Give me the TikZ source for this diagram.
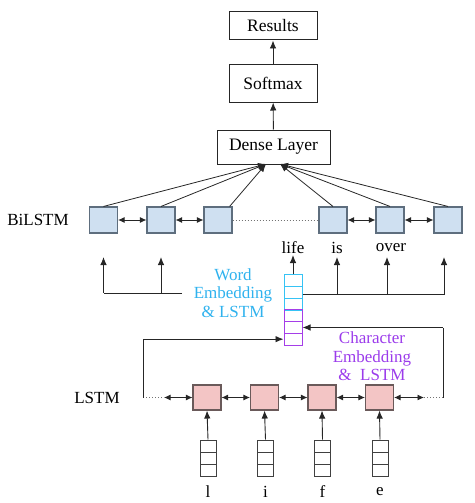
\documentclass[tikz,border=0pt]{standalone}
\usepackage{fontspec}
\setmainfont{Liberation Serif}
\usetikzlibrary{arrows.meta}
\definecolor{bfill}{HTML}{CFE0F1}
\definecolor{bdraw}{HTML}{5E6E7E}
\definecolor{pfill}{HTML}{F3C5C5}
\definecolor{pdraw}{HTML}{6A5A5A}
\definecolor{cyantext}{HTML}{2FB2EE}
\definecolor{cyanbox}{HTML}{36C3F5}
\definecolor{purpletext}{HTML}{9B3BEB}
\definecolor{purplebox}{HTML}{A53EE8}
\begin{document}
\begin{tikzpicture}[x=1pt,y=-1pt,
  >={Latex[length=8pt,width=6.5pt]},
  line width=0.9pt,
  topbox/.style={draw=black!85, line width=1pt, minimum height=28pt, font=\fontsize{17.5}{20}\selectfont, inner sep=0pt},
  bcell/.style={draw=bdraw, fill=bfill, line width=1.1pt, minimum width=28pt, minimum height=26pt, inner sep=0pt},
  pcell/.style={draw=pdraw, fill=pfill, line width=1.1pt, minimum width=28pt, minimum height=25pt, inner sep=0pt},
  wcell/.style={draw=cyanbox, line width=1pt, minimum width=18pt, minimum height=11.67pt, inner sep=0pt},
  ccell/.style={draw=purplebox, line width=1pt, minimum width=18pt, minimum height=11.67pt, inner sep=0pt},
  kcell/.style={draw=black!75, line width=1pt, minimum width=16pt, minimum height=12pt, inner sep=0pt},
  lbl/.style={font=\fontsize{17}{19}\selectfont, inner sep=0pt},
  conn/.style={draw=black!85, line width=0.9pt},
  dots/.style={draw=black!55, dotted, line width=1pt},
  dbl/.style={conn, {Latex[length=6.5pt,width=6pt]}-{Latex[length=6.5pt,width=6pt]}}
]
\useasboundingbox (0,0) rectangle (474,503);

% top stack
\node[topbox, minimum width=88pt] (res) at (273,26) {Results};
\node[topbox, minimum width=88pt, minimum height=37pt] (soft) at (273,83.5) {Softmax};
\node[topbox, minimum width=113pt, minimum height=34pt] (dense) at (273.5,147) {Dense Layer};
\draw[conn,->] (soft) -- (res);
\draw[conn,->] (dense) -- (soft);

% BiLSTM row
\node[lbl] (bilbl) at (38,220) {BiLSTM};
\node[bcell] (b1) at (103.5,220) {};
\node[bcell] (b2) at (161,220) {};
\node[bcell] (b3) at (218,220) {};
\node[bcell] (b4) at (333,220) {};
\node[bcell] (b5) at (390,220) {};
\node[bcell] (b6) at (448,220) {};
\draw[dbl] (b1) -- (b2);
\draw[dbl] (b2) -- (b3);
\draw[dots] (b3) -- (b4);
\draw[dbl] (b4) -- (b5);
\draw[dbl] (b5) -- (b6);

\coordinate (dl) at (266,164);
\coordinate (dr) at (280,164);
\draw[conn,->,line width=0.8pt] (b1.north) -- (dl);
\draw[conn,->,line width=0.8pt] (b2.north) -- (dl);
\draw[conn,->,line width=0.8pt] (b3) -- (dl);
\draw[conn,->,line width=0.8pt] (b4.north) -- (dr);
\draw[conn,->,line width=0.8pt] (b5.north) -- (dr);
\draw[conn,->,line width=0.8pt] (b6.north) -- (dr);

% words
\node[lbl] (life) at (293,248) {life};
\node[lbl] (is) at (337,248) {is};
\node[lbl] (over) at (391,248) {over};

% word/char stack
\node[wcell] (w1) at (293,280.83) {};
\node[wcell] (w2) at (293,292.5) {};
\node[wcell] (w3) at (293,304.17) {};
\node[ccell] (c1) at (293,315.83) {};
\node[ccell] (c2) at (293,327.5) {};
\node[ccell] (c3) at (293,339.17) {};

\coordinate (lifetip) at (293,255);
\draw[conn,->] (w1.north) -- (lifetip);

% right branch
\coordinate (rj1) at (337,294.5);
\coordinate (rj2) at (387,294.5);
\coordinate (rj3) at (444,294.5);
\coordinate (ra1) at (337,257);
\coordinate (ra2) at (387,257);
\coordinate (ra3) at (444,257);
\draw[conn] (w2.east |- rj1) -- (rj3);
\draw[conn,->] (rj1) -- (ra1);
\draw[conn,->] (rj2) -- (ra2);
\draw[conn,->] (rj3) -- (ra3);

% left branch
\coordinate (lj0) at (182,293);
\coordinate (lj1) at (161,293);
\coordinate (lj2) at (103.5,293);
\coordinate (la1) at (161,257);
\coordinate (la2) at (103.5,257);
\draw[conn] (lj0) -- (lj2);
\draw[conn,->] (lj1) -- (la1);
\draw[conn,->] (lj2) -- (la2);

% Word embedding label
\node[lbl, text=cyantext, align=center, font=\fontsize{17}{18.5}\selectfont] (wlbl) at (233,293) {Word\\Embedding\\\& LSTM};

% Character embedding label
\node[lbl, text=purpletext, align=center, font=\fontsize{17}{18.5}\selectfont] (clbl) at (372,356.5) {Character\\Embedding\\\&~ LSTM};

% LSTM row
\node[lbl] (lstmlbl) at (97,398) {LSTM};
\node[pcell] (l1) at (207,397.5) {};
\node[pcell] (l2) at (264.5,397.5) {};
\node[pcell] (l3) at (322,397.5) {};
\node[pcell] (l4) at (379.5,397.5) {};
\draw[dbl] (l1) -- (l2);
\draw[dbl] (l2) -- (l3);
\draw[dbl] (l3) -- (l4);

\coordinate (lft0) at (143,397.5);
\coordinate (lft1) at (164,397.5);
\coordinate (lftup) at (143,339.17);
\draw[dots] (lft0) -- (lft1);
\draw[dbl] (lft1) -- (l1);
\draw[conn] (lft0) -- (lftup);
\draw[conn,->] (lftup) -- (c3.west);

\coordinate (rgt0) at (443,397.5);
\coordinate (rgt1) at (424,397.5);
\coordinate (rgtup) at (443,327.5);
\draw[dots] (rgt1) -- (rgt0);
\draw[dbl] (l4) -- (rgt1);
\draw[conn] (rgt0) -- (rgtup);
\draw[conn,->] (rgtup) -- (c2.east);

% character input stacks
\foreach \i/\x/\ch in {1/208/l, 2/265.5/i, 3/322.5/f, 4/380/e}{
  \node[kcell] (k\i a) at (\x,446) {};
  \node[kcell] (k\i b) at (\x,458) {};
  \node[kcell] (k\i c) at (\x,470) {};
  \node[lbl] (ch\i) at (\x,492) {\ch};
  \draw[conn,->] (k\i a.north) -- (l\i.south);
}
\end{tikzpicture}
\end{document}
